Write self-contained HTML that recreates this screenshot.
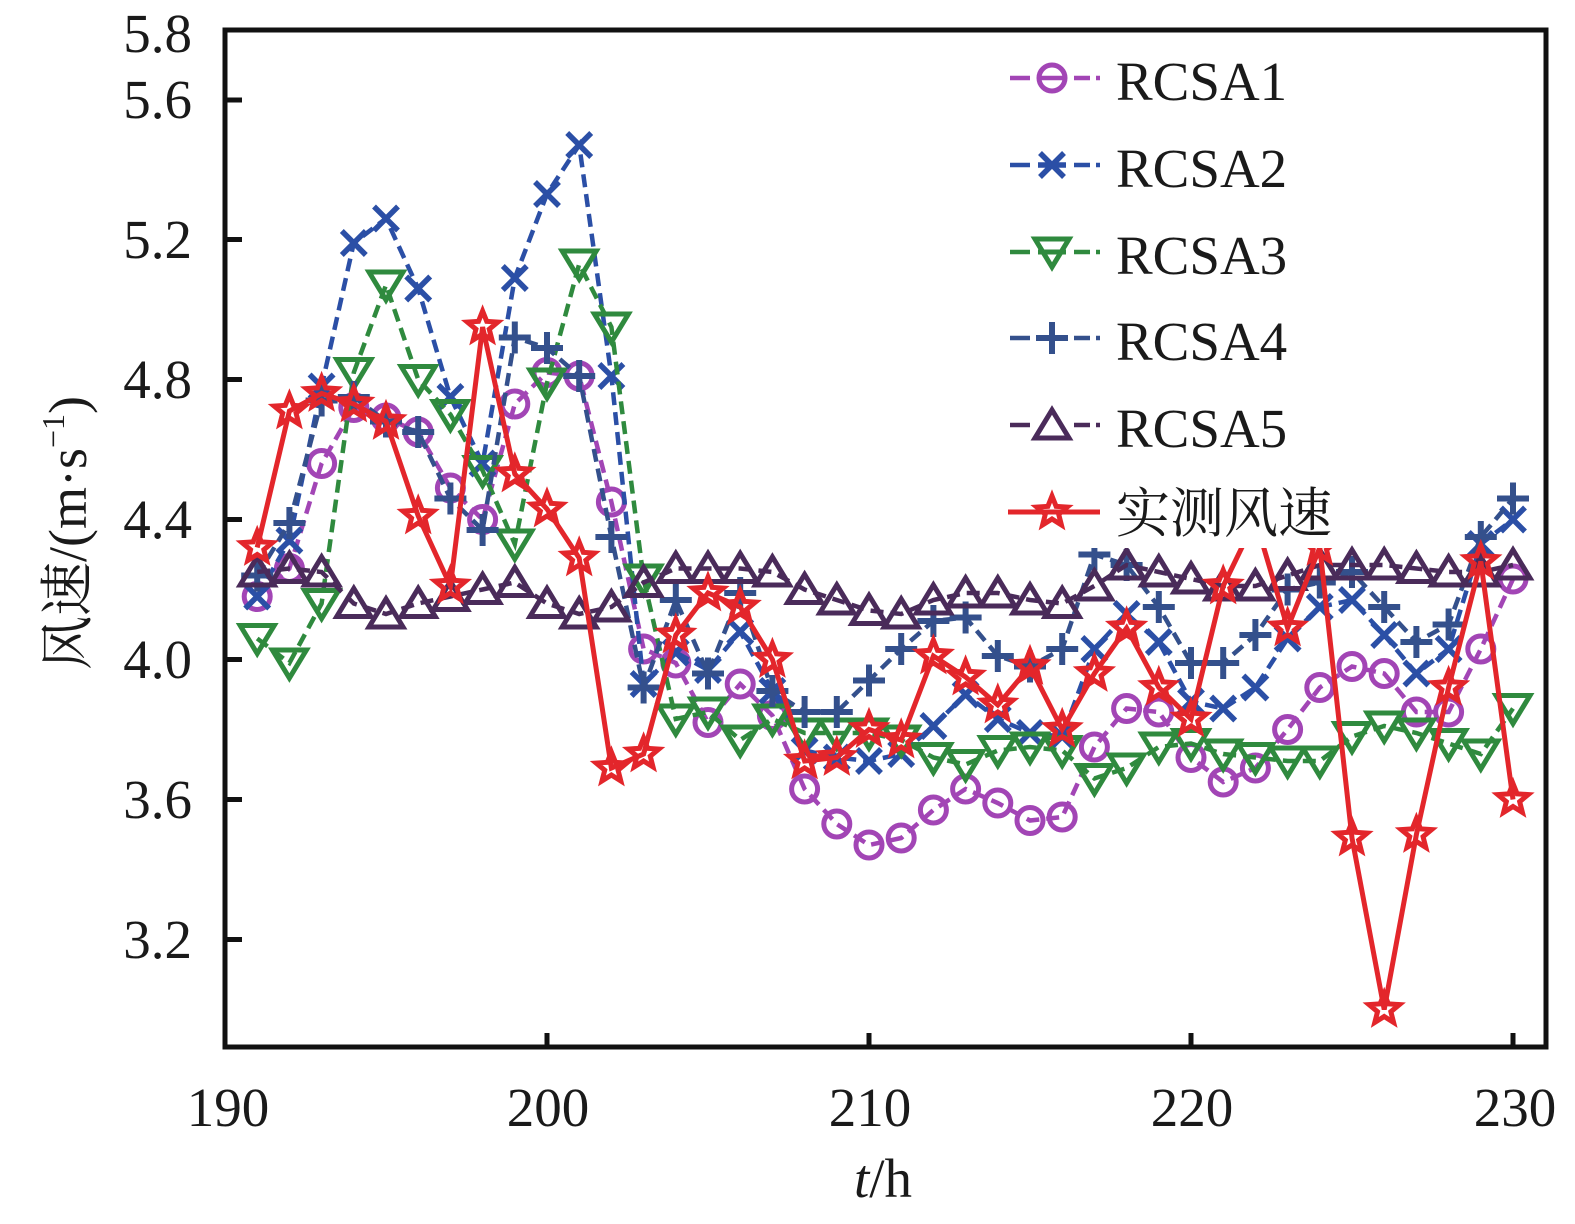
<!DOCTYPE html>
<html>
<head>
<meta charset="utf-8">
<style>
html,body{margin:0;padding:0;background:#fff;}
svg{display:block;}
text{font-family:"Liberation Serif","Noto Serif CJK SC",serif;fill:#1a1a1a;}
</style>
</head>
<body>
<svg width="1575" height="1224" viewBox="0 0 1575 1224" xmlns="http://www.w3.org/2000/svg">
<defs>
  <marker id="mC" markerUnits="userSpaceOnUse" viewBox="-20 -20 40 40" markerWidth="40" markerHeight="40" refX="0" refY="0" overflow="visible">
    <circle cx="0" cy="0" r="13" fill="none" stroke="#a245b5" stroke-width="5" stroke-dasharray="none"/>
  </marker>
  <marker id="mX" markerUnits="userSpaceOnUse" viewBox="-20 -20 40 40" markerWidth="40" markerHeight="40" refX="0" refY="0" overflow="visible">
    <path d="M-12,-12 L12,12 M-12,12 L12,-12" fill="none" stroke="#2b4fa6" stroke-width="5.5" stroke-dasharray="none"/>
  </marker>
  <marker id="mV" markerUnits="userSpaceOnUse" viewBox="-20 -20 40 40" markerWidth="40" markerHeight="40" refX="0" refY="0" overflow="visible">
    <path d="M-17,-13 L17,-13 L0,15 Z" fill="none" stroke="#2f8a3e" stroke-width="5" stroke-linejoin="miter" stroke-dasharray="none"/>
  </marker>
  <marker id="mP" markerUnits="userSpaceOnUse" viewBox="-20 -20 40 40" markerWidth="40" markerHeight="40" refX="0" refY="0" overflow="visible">
    <path d="M-16,0 L16,0 M0,-16 L0,16" fill="none" stroke="#34508c" stroke-width="6" stroke-dasharray="none"/>
  </marker>
  <marker id="mA" markerUnits="userSpaceOnUse" viewBox="-20 -20 40 40" markerWidth="40" markerHeight="40" refX="0" refY="0" overflow="visible">
    <path d="M-17,13 L17,13 L0,-15 Z" fill="none" stroke="#4a2b5a" stroke-width="5" stroke-linejoin="miter" stroke-dasharray="none"/>
  </marker>
  <marker id="mS" markerUnits="userSpaceOnUse" viewBox="-20 -20 40 40" markerWidth="40" markerHeight="40" refX="0" refY="0" overflow="visible">
    <path d="M0,-16 L4.11,-5.66 L15.22,-4.94 L6.66,2.16 L9.4,12.94 L0,7 L-9.4,12.94 L-6.66,2.16 L-15.22,-4.94 L-4.11,-5.66 Z" fill="none" stroke="#e3262b" stroke-width="5" stroke-linejoin="miter" stroke-dasharray="none"/>
  </marker>
</defs>

<rect x="0" y="0" width="1575" height="1224" fill="#fff"/>

<!-- Series -->
<polyline fill="none" stroke="#a245b5" stroke-width="4.5" stroke-dasharray="13 7" marker-start="url(#mC)" marker-mid="url(#mC)" marker-end="url(#mC)"
 points="257.2,596.5 289.4,568.5 321.6,463.5 353.8,407.5 386,418 418.2,432 450.4,488 482.6,519.5 514.8,404 547,372.5 579.2,376 611.4,502 643.6,649 675.8,663 708,722.5 740.2,684 772.4,715.5 804.6,789 836.8,824 869,845 901.2,838 933.4,810 965.6,789 997.8,803 1030,820.5 1062.2,817 1094.4,747 1126.6,708.5 1158.8,712 1191,757.5 1223.2,782 1255.4,768 1287.6,729.5 1319.8,687.5 1352,666.5 1384.2,673.5 1416.4,712 1448.6,712 1480.8,649 1513,579"/>

<polyline fill="none" stroke="#2b4fa6" stroke-width="4.5" stroke-dasharray="13 7" marker-start="url(#mX)" marker-mid="url(#mX)" marker-end="url(#mX)"
 points="257.2,596.5 289.4,540.5 321.6,386.5 353.8,243 386,218.5 418.2,288.5 450.4,397 482.6,463.5 514.8,278 547,194 579.2,145 611.4,376 643.6,684 675.8,652.5 708,670 740.2,631.5 772.4,691 804.6,750.5 836.8,757.5 869,761 901.2,754 933.4,726 965.6,694.5 997.8,719 1030,733 1062.2,736.5 1094.4,649 1126.6,614 1158.8,642 1191,701.5 1223.2,708.5 1255.4,687.5 1287.6,638.5 1319.8,607 1352,600 1384.2,635 1416.4,673.5 1448.6,649 1480.8,544 1513,519.5"/>

<polyline fill="none" stroke="#2f8a3e" stroke-width="4.5" stroke-dasharray="13 7" marker-start="url(#mV)" marker-mid="url(#mV)" marker-end="url(#mV)"
 points="257.2,638.5 289.4,663 321.6,603.5 353.8,372.5 386,285 418.2,379.5 450.4,414.5 482.6,470.5 514.8,544 547,383 579.2,264 611.4,327 643.6,579 675.8,719 708,712 740.2,740 772.4,719 804.6,733 836.8,733 869,733 901.2,740 933.4,757.5 965.6,764.5 997.8,750.5 1030,747 1062.2,750.5 1094.4,778.5 1126.6,768 1158.8,747 1191,743.5 1223.2,754 1255.4,757.5 1287.6,761 1319.8,761 1352,736.5 1384.2,726 1416.4,733 1448.6,743.5 1480.8,754 1513,708.5"/>

<polyline fill="none" stroke="#34508c" stroke-width="4.5" stroke-dasharray="13 7" marker-start="url(#mP)" marker-mid="url(#mP)" marker-end="url(#mP)"
 points="257.2,575.5 289.4,523 321.6,400.5 353.8,397 386,421.5 418.2,432 450.4,498.5 482.6,530 514.8,337.5 547,348 579.2,376 611.4,537 643.6,687.5 675.8,600 708,673.5 740.2,593 772.4,691 804.6,712 836.8,712 869,680.5 901.2,649 933.4,621 965.6,617.5 997.8,656 1030,666.5 1062.2,649 1094.4,554.5 1126.6,565 1158.8,607 1191,663 1223.2,663 1255.4,635 1287.6,589.5 1319.8,582.5 1352,572 1384.2,607 1416.4,642 1448.6,624.5 1480.8,537 1513,498.5"/>

<polyline fill="none" stroke="#4a2b5a" stroke-width="4.5" stroke-dasharray="13 7" marker-start="url(#mA)" marker-mid="url(#mA)" marker-end="url(#mA)"
 points="257.2,572 289.4,568.5 321.6,572 353.8,603.5 386,614 418.2,603.5 450.4,596.5 482.6,589.5 514.8,582.5 547,603.5 579.2,614 611.4,607 643.6,582.5 675.8,568.5 708,568.5 740.2,568.5 772.4,572 804.6,589.5 836.8,600 869,610.5 901.2,614 933.4,600 965.6,593 997.8,593 1030,600 1062.2,603.5 1094.4,586 1126.6,565 1158.8,572 1191,579 1223.2,586 1255.4,586 1287.6,575.5 1319.8,565 1352,565 1384.2,565 1416.4,568.5 1448.6,572 1480.8,572 1513,565"/>

<polyline fill="none" stroke="#e3262b" stroke-width="5" stroke-linejoin="miter" marker-start="url(#mS)" marker-mid="url(#mS)" marker-end="url(#mS)"
 points="257.2,547.5 289.4,411 321.6,393.5 353.8,404 386,421.5 418.2,516 450.4,586 482.6,327 514.8,474 547,509 579.2,558 611.4,768 643.6,754 675.8,635 708,593 740.2,607 772.4,659.5 804.6,761 836.8,757.5 869,729.5 901.2,740 933.4,656 965.6,677 997.8,705 1030,666.5 1062.2,729.5 1094.4,673.5 1126.6,628 1158.8,687.5 1191,719 1223.2,586 1255.4,519.5 1287.6,628 1319.8,547.5 1352,838 1384.2,1009.5 1416.4,834.5 1448.6,687.5 1480.8,561.5 1513,799.5"/>

<!-- Legend background -->
<rect x="995" y="36" width="350" height="512" fill="#fff"/>

<!-- Legend entries -->
<g stroke-width="4.5" fill="none">
  <path d="M1010,78 L1030,78 M1074,78 L1090,78 M1096,78 L1100,78" stroke="#a245b5"/>
  <path d="M1010,165 L1030,165 M1074,165 L1090,165 M1096,165 L1100,165" stroke="#2b4fa6"/>
  <path d="M1010,252 L1030,252 M1074,252 L1090,252 M1096,252 L1100,252" stroke="#2f8a3e"/>
  <path d="M1010,338 L1030,338 M1074,338 L1090,338 M1096,338 L1100,338" stroke="#34508c"/>
  <path d="M1010,425 L1030,425 M1074,425 L1090,425 M1096,425 L1100,425" stroke="#4a2b5a"/>
  <path d="M1008,512 L1100,512" stroke="#e3262b" stroke-width="5"/>
</g>
<g>
  <circle cx="1052" cy="78" r="13" fill="none" stroke="#a245b5" stroke-width="5"/>
  <path d="M1039,78 L1065,78" stroke="#a245b5" stroke-width="4.5"/>
  <g transform="translate(1052,165)"><path d="M-12,-12 L12,12 M-12,12 L12,-12 M-14,0 L14,0" fill="none" stroke="#2b4fa6" stroke-width="5.5"/></g>
  <g transform="translate(1052,252)"><path d="M-17,-13 L17,-13 L0,15 Z M-14,0 L14,0" fill="none" stroke="#2f8a3e" stroke-width="5"/></g>
  <g transform="translate(1052,338)"><path d="M-16,0 L16,0 M0,-16 L0,16" fill="none" stroke="#34508c" stroke-width="6"/></g>
  <g transform="translate(1052,425)"><path d="M-17,13 L17,13 L0,-15 Z" fill="none" stroke="#4a2b5a" stroke-width="5"/></g>
  <g transform="translate(1052,512)"><path d="M0,-16 L4.11,-5.66 L15.22,-4.94 L6.66,2.16 L9.4,12.94 L0,7 L-9.4,12.94 L-6.66,2.16 L-15.22,-4.94 L-4.11,-5.66 Z" fill="none" stroke="#e3262b" stroke-width="5"/></g>
</g>
<g font-size="55">
  <text x="1116" y="100">RCSA1</text>
  <text x="1116" y="187">RCSA2</text>
  <text x="1116" y="274">RCSA3</text>
  <text x="1116" y="360">RCSA4</text>
  <text x="1116" y="447">RCSA5</text>
  <text x="1116" y="532" font-size="54" font-family="'Liberation Serif','Noto Serif CJK SC',serif">实测风速</text>
</g>

<!-- Frame -->
<rect x="225" y="30" width="1321" height="1017" fill="none" stroke="#111" stroke-width="5"/>

<!-- Y ticks -->
<g stroke="#111" stroke-width="5">
  <line x1="225" y1="100" x2="242" y2="100"/>
  <line x1="225" y1="239.5" x2="242" y2="239.5"/>
  <line x1="225" y1="379.5" x2="242" y2="379.5"/>
  <line x1="225" y1="519.5" x2="242" y2="519.5"/>
  <line x1="225" y1="659.5" x2="242" y2="659.5"/>
  <line x1="225" y1="799.5" x2="242" y2="799.5"/>
  <line x1="225" y1="939.5" x2="242" y2="939.5"/>
</g>
<!-- X ticks -->
<g stroke="#111" stroke-width="5">
  <line x1="547" y1="1047" x2="547" y2="1033"/>
  <line x1="869" y1="1047" x2="869" y2="1033"/>
  <line x1="1191" y1="1047" x2="1191" y2="1033"/>
  <line x1="1513" y1="1047" x2="1513" y2="1033"/>
</g>

<!-- Y tick labels -->
<g font-size="55" text-anchor="end">
  <text x="192" y="52">5.8</text>
  <text x="192" y="118">5.6</text>
  <text x="192" y="258">5.2</text>
  <text x="192" y="398">4.8</text>
  <text x="192" y="538">4.4</text>
  <text x="192" y="678">4.0</text>
  <text x="192" y="818">3.6</text>
  <text x="192" y="958">3.2</text>
</g>

<!-- X tick labels -->
<g font-size="55" text-anchor="middle">
  <text x="228" y="1126">190</text>
  <text x="548" y="1126">200</text>
  <text x="870" y="1126">210</text>
  <text x="1192" y="1126">220</text>
  <text x="1515" y="1126">230</text>
</g>

<!-- X title -->
<text x="883" y="1197" font-size="55" text-anchor="middle"><tspan font-style="italic">t</tspan>/h</text>

<!-- Y title -->
<text transform="translate(86,533) rotate(-90)" font-size="54" text-anchor="middle"><tspan font-family="'Liberation Serif','Noto Serif CJK SC',serif">风速</tspan>/(m·s<tspan font-size="32" dy="-22">−1</tspan><tspan dy="22">)</tspan></text>
</svg>
</body>
</html>
